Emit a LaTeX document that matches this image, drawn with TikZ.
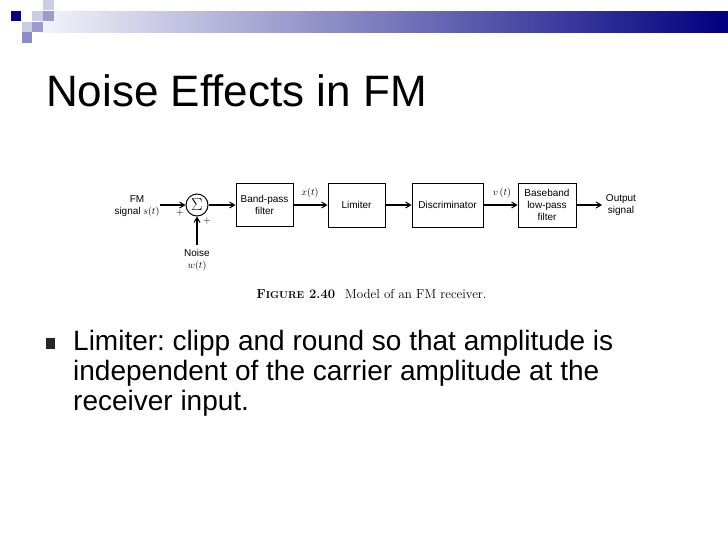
\documentclass[tikz,border=0pt]{standalone}
\usepackage{fontspec}
\usepackage{amsmath}
\usepackage{xcolor}
\usetikzlibrary{arrows.meta}
\newfontfamily\arialfont{Liberation Sans}
\definecolor{navy}{RGB}{0,0,128}
\definecolor{barleft}{RGB}{244,244,250}
\definecolor{sqlight}{RGB}{204,204,230}
\definecolor{sqmid}{RGB}{155,155,206}
\definecolor{sqdark}{RGB}{140,140,200}
\frenchspacing
\tikzset{
  blok/.style={draw=black,line width=1pt,minimum width=57pt,minimum height=44pt,inner sep=0pt,align=center,font=\arialfont\fontsize{10}{12}\selectfont},
  sig/.style={line width=1.1pt,-{Straight Barb[length=5pt,width=6pt,line width=1pt]}},
  lbl/.style={inner sep=0pt,align=center,font=\arialfont\fontsize{10}{12}\selectfont},
}
\begin{document}
\begin{tikzpicture}[x=1pt,y=-1pt]
            \useasboundingbox[fill=white] (0,0) rectangle (728,546);
            \shade[left color=barleft,right color=navy] (40,11) rectangle (728,32);
            \fill[navy] (11,11) rectangle (21,21);
            \fill[sqlight] (43,0) rectangle (54,10);
            \fill[sqlight] (32,11) rectangle (43,21);
            \fill[sqmid] (43,11) rectangle (54,21);
            \fill[sqlight] (22,22) rectangle (32,32);
            \fill[sqmid] (32,22) rectangle (43,32);
            \fill[sqdark] (22,32) rectangle (32,43);

            \node[anchor=base west,inner sep=0pt,font=\arialfont\fontsize{44}{48}\selectfont] (title) at (46,106) {Noise Effects in FM};

            \coordinate (fmin) at (160,205);
            \coordinate (noisein) at (197,245);
            \coordinate (out) at (602,205);
            \node[draw=black,line width=1pt,circle,minimum size=22pt,inner sep=0pt,font=\fontsize{18}{18}\selectfont] (sum) at (197,205) {$\Sigma$};
            \node[blok,minimum height=43pt] (bpf) at (264.5,205) {Band-pass\\filter};
            \node[blok] (lim) at (356.5,205) {Limiter};
            \node[blok,minimum width=71pt] (disc) at (447.5,205) {Discriminator};
            \node[blok,minimum width=58pt] (lpf) at (547,205) {Baseband\\low-pass\\filter};

            \node[lbl] (fmlbl) at (137,206) {FM\\signal $s(t)$};
            \node[lbl] (pa) at (180,213) {$+$};
            \node[lbl] (pb) at (207,221) {$+$};
            \node[lbl,anchor=north] (noiselbl) at (197,249) {Noise\\$w(t)$};
            \node[lbl] (xlbl) at (310,193) {$x(t)$};
            \node[lbl] (vlbl) at (502,193) {$v\,(t)$};
            \node[lbl] (outlbl) at (621,205) {Output\\signal};

            \draw[sig] (fmin) -- (sum);
            \draw[sig] (noisein) -- (sum);
            \draw[sig] (sum) -- (bpf);
            \draw[sig] (bpf) -- (lim);
            \draw[sig] (lim) -- (disc);
            \draw[sig] (disc) -- (lpf);
            \draw[sig] (lpf) -- (out);

            \node[inner sep=0pt,anchor=base,font=\fontsize{13}{15}\selectfont] (caption) at (371.5,298) {\textbf{F{\fontsize{10}{12}\selectfont IGURE} 2.40}\hspace{10pt}Model of an FM receiver.};

            \fill[black!85] (46,338) rectangle (55,349);
            \node[anchor=north west,inner sep=0pt,align=left,font=\arialfont\fontsize{28}{30}\selectfont] (bullet) at (73,330) {Limiter: clipp and round so that amplitude is\\independent of the carrier amplitude at the\\receiver input.};
        \end{tikzpicture}
\end{document}
